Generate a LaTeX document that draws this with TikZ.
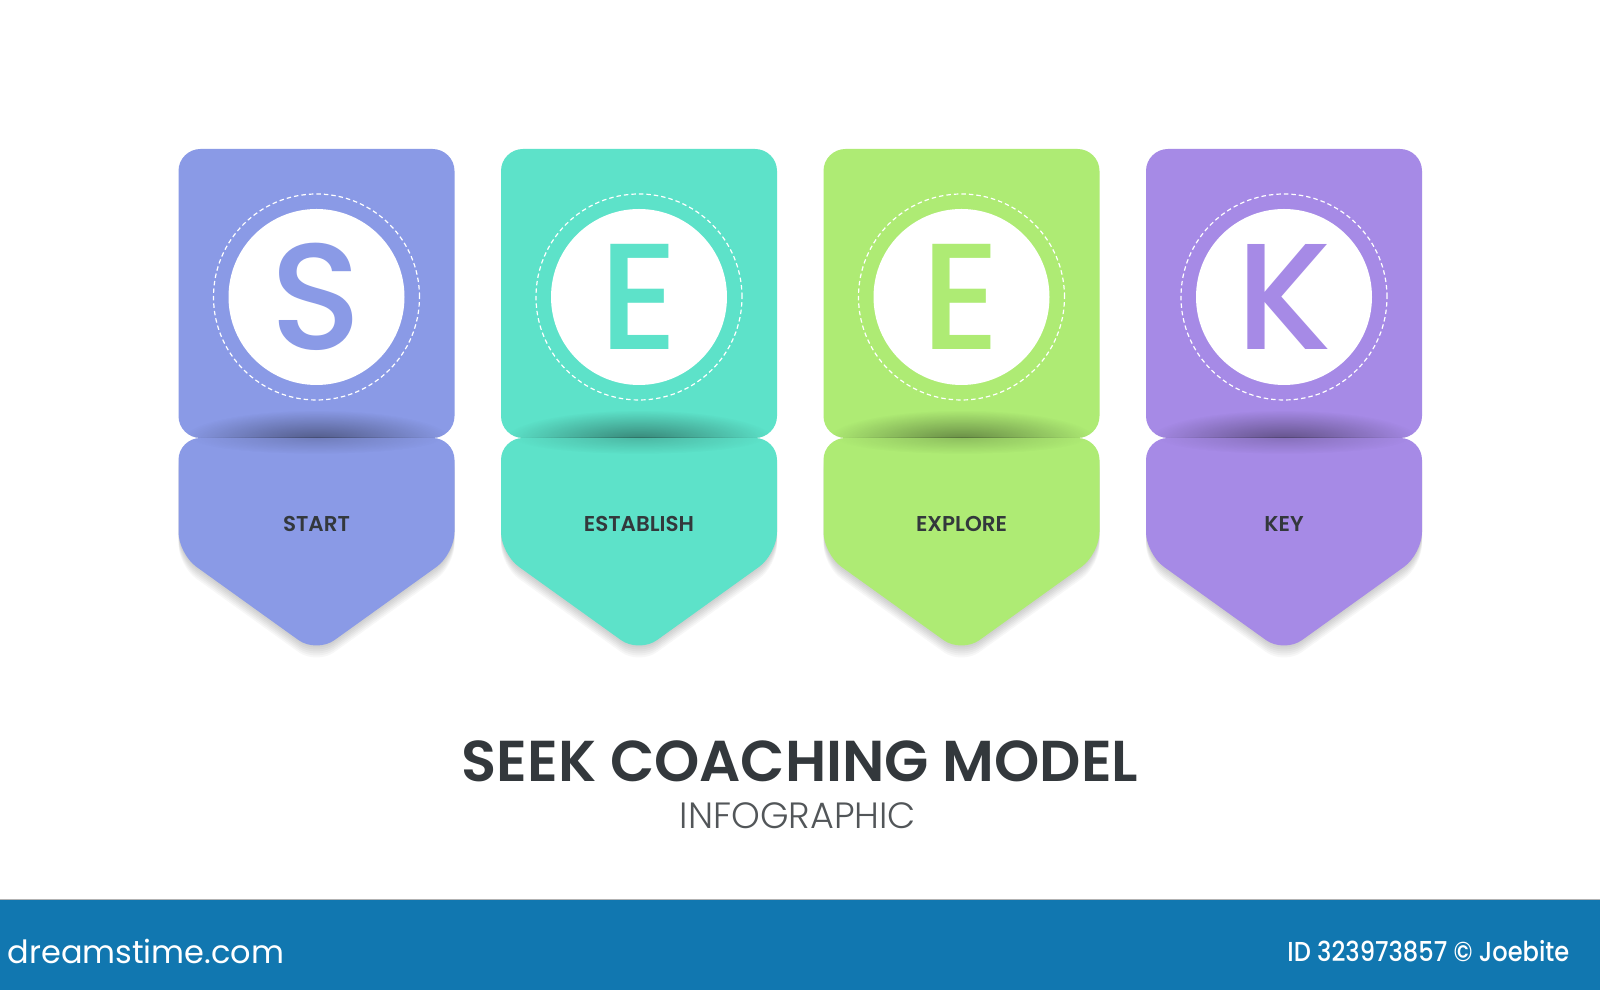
\documentclass[tikz,border=0pt]{standalone}
\usepackage{fontspec}
\usepackage{graphicx}
\usetikzlibrary{fadings}

\setmainfont{Poppins}
\newfontfamily\medfont{Poppins Medium}
\newfontfamily\semifont{Poppins SemiBold}
\newfontfamily\lightfont{Poppins Light}

\definecolor{seekblue}{RGB}{138,154,230}
\definecolor{seekteal}{RGB}{93,226,201}
\definecolor{seekgreen}{RGB}{174,235,116}
\definecolor{seekviolet}{RGB}{166,138,230}
\definecolor{inkgrey}{RGB}{51,56,60}
\definecolor{stockblue}{RGB}{17,119,176}

\tikzfading[name=softfade, inner color=transparent!0, outer color=transparent!100]

\begin{document}
\begin{tikzpicture}[x=0.1mm, y=-0.1mm,
	ring/.style={circle, draw=white, line width=0.12mm, dash pattern=on 0.45mm off 0.3mm,
		minimum size=20.6mm, inner sep=0pt},
	disc/.style={circle, fill=white, minimum size=17.6mm, inner sep=0pt,
		font=\medfont\fontsize{43}{45}\selectfont},
	steplabel/.style={text=inkgrey, font=\semifont\fontsize{6.1}{7}\selectfont},
	]
	\def \halfw {138}
	\def \ytop {149}
	\def \yfold {438}
	\def \yside {554}
	\def \ytip {653}

	\useasboundingbox (0,0) rectangle (1600,990);
	\fill[white] (0,0) rectangle (1600,990);

	\foreach \n/\cx/\col/\ltr/\txt in {1/316.5/seekblue/S/START, 2/639/seekteal/E/ESTABLISH,
			3/961.5/seekgreen/E/EXPLORE, 4/1284/seekviolet/K/KEY} {
		% soft shadow under the arrow
		\foreach \k in {1,...,6}
			\fill[black, opacity=0.03, rounded corners=2.2mm, shift={(0,\k*2)}]
				(\cx,\yfold) -- (\cx+\halfw,\yfold) -- (\cx+\halfw,\yside) -- (\cx,\ytip)
				-- (\cx-\halfw,\yside) -- (\cx-\halfw,\yfold) -- cycle;
		\fill[\col, rounded corners=2.2mm]
			(\cx,\yfold) -- (\cx+\halfw,\yfold) -- (\cx+\halfw,\yside) -- (\cx,\ytip)
			-- (\cx-\halfw,\yside) -- (\cx-\halfw,\yfold) -- cycle;
		\fill[\col, rounded corners=2.2mm] (\cx-\halfw,\ytop) rectangle (\cx+\halfw,\yfold);

		% fold shadow
		\begin{scope}
			\clip[rounded corners=2.2mm] (\cx-\halfw,\ytop) rectangle (\cx+\halfw,\yfold);
			\fill[black, opacity=0.42, path fading=softfade]
				(\cx,\yfold+2) ellipse [x radius=135, y radius=30];
		\end{scope}
		\begin{scope}
			\clip (\cx-\halfw,\yfold) rectangle (\cx+\halfw,\yfold+40);
			\fill[black, opacity=0.18, path fading=softfade]
				(\cx,\yfold) ellipse [x radius=125, y radius=16];
		\end{scope}

		\node[ring] (ring-\n) at (\cx,297) {};
		\node[disc, text=\col] (disc-\n) at (\cx,297) {\ltr};
		\node[steplabel] (label-\n) at (\cx,524) {\txt};
	}

	\node[text=inkgrey, font=\semifont\fontsize{16.4}{18}\selectfont] (title) at (800,761)
		{SEEK COACHING MODEL};
	\node[text=inkgrey!85, font=\lightfont\fontsize{10.4}{12}\selectfont] (subtitle) at (798,816)
		{INFOGRAPHIC};

	\fill[stockblue] (0,900) rectangle (1600,990);
	\draw[black!30, line width=0.1mm] (0,900) -- (1600,900);
	\node[anchor=west, inner sep=0pt, text=white, font=\fontsize{9.1}{11}\selectfont]
		(brand) at (7,951) {dreamstime.com};
	\node[anchor=east, inner sep=0pt, text=white, font=\medfont\fontsize{7.8}{9}\selectfont]
		(credit) at (1570,951) {\scalebox{0.88}[1]{ID 323973857 © Joebite}};
\end{tikzpicture}
\end{document}
